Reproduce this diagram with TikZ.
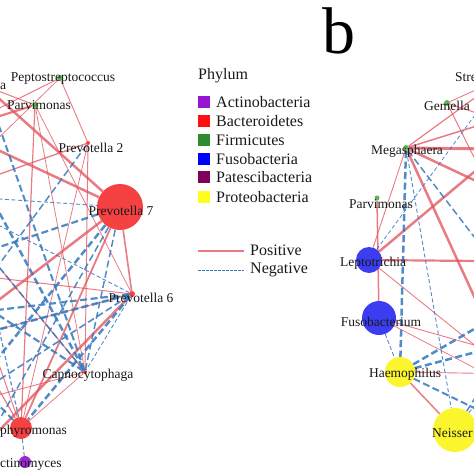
\documentclass[tikz,border=0pt]{standalone}
\usepackage{fontspec}
\setmainfont{Liberation Serif}
\usetikzlibrary{backgrounds}
\definecolor{posc}{RGB}{226,80,90}
\definecolor{negc}{RGB}{50,120,190}
\definecolor{actc}{RGB}{155,40,215}
\definecolor{bacc}{RGB}{245,65,65}
\definecolor{firc}{RGB}{95,180,85}
\definecolor{fusc}{RGB}{60,60,240}
\definecolor{proc}{RGB}{250,245,45}
\definecolor{lactc}{RGB}{150,20,210}
\definecolor{lbacc}{RGB}{255,15,15}
\definecolor{lfirc}{RGB}{45,140,45}
\definecolor{lfusc}{RGB}{0,0,255}
\definecolor{lpatc}{RGB}{130,0,90}
\definecolor{lproc}{RGB}{255,255,30}
\tikzset{
 edgep/.style={draw=posc, draw opacity=0.75, line width=#1},
 edgen/.style={draw=negc, draw opacity=0.85, line width=#1, dash pattern=on 4pt off 2.5pt},
 edgenk/.style={draw=negc, draw opacity=0.85, line width=#1, dash pattern=on 7pt off 3.5pt},
 vtx/.style={circle, inner sep=0pt, minimum size=#1},
 lab/.style={font=\fontsize{13.5}{14}\selectfont, inner sep=0pt, text=black!90},
 legtext/.style={font=\fontsize{16}{16}\selectfont, inner sep=0pt, anchor=west, text=black!90},
 sqbox/.style={minimum size=12pt, inner sep=0pt},
}
\begin{document}
\begin{tikzpicture}[x=1pt,y=-1pt]
\useasboundingbox (0,0) rectangle (474,474);
\clip (0,0) rectangle (474,474);

% ---------- left panel nodes ----------
\node[vtx=6pt, fill=firc] (pepto) at (60,78) {};
\node[vtx=6pt, fill=firc] (parvL) at (35,105) {};
\node[vtx=4pt, fill=bacc] (prevtwo) at (88,143) {};
\node[vtx=46pt, fill=bacc] (prevseven) at (120,207) {};
\node[vtx=6pt, fill=bacc] (prevsix) at (132,294) {};
\node[vtx=4pt, fill=bacc] (capno) at (85,372) {};
\node[vtx=22pt, fill=bacc] (porph) at (21,428) {};
\node[vtx=12pt, fill=actc] (actino) at (25,462) {};
\coordinate (oA) at (-15,86);
\coordinate (oB) at (-45,130);
\coordinate (oC) at (-60,195);
\coordinate (oD) at (-70,270);
\coordinate (oH) at (-70,318);
\coordinate (oE) at (-60,345);
\coordinate (oF) at (-40,405);
\coordinate (oG) at (-15,445);

% ---------- right panel nodes ----------
\node[vtx=6pt, fill=firc] (gem) at (447,103) {};
\node[vtx=6pt, fill=firc] (mega) at (406,148) {};
\node[vtx=5pt, fill=firc] (parvR) at (377,198) {};
\node[vtx=26pt, fill=fusc] (lepto) at (369,260) {};
\node[vtx=34pt, fill=fusc] (fuso) at (379,318) {};
\node[vtx=30pt, fill=proc] (haem) at (400,372) {};
\node[vtx=44pt, fill=proc] (neis) at (455,430) {};
\coordinate (strep) at (502,78);
\coordinate (rA) at (560,100);
\coordinate (rB) at (585,150);
\coordinate (rC) at (580,230);
\coordinate (rD) at (590,262);
\coordinate (rX) at (560,330);
\coordinate (rE) at (580,375);
\coordinate (rF) at (555,410);
\coordinate (rG) at (540,440);

\begin{scope}[on background layer]
% left positive
\foreach \a/\b/\w in {pepto/prevtwo/0.9, pepto/oB/1, parvL/porph/1.2, oB/parvL/2.2,
  oA/parvL/1, oA/prevseven/2.5, oB/prevseven/2.5, prevtwo/oC/1.3, prevtwo/capno/1,
  prevtwo/porph/0.8, prevseven/prevsix/1.6, prevseven/oE/2.5, prevseven/porph/1.8,
  parvL/prevsix/0.8, oD/prevsix/1, oE/prevsix/0.9, oC/capno/1.2, prevsix/oG/2.5,
  capno/porph/0.8, capno/oF/0.9, porph/oD/1.2, porph/oC/1.0, parvL/capno/0.8, pepto/oC/0.8}
  \draw[edgep=\w pt] (\a) -- (\b);
% left negative thin
\foreach \a/\b/\w in {oC/prevseven/0.9, prevsix/oC/0.9, prevsix/capno/0.9, porph/actino/0.9, porph/oB/1.2}
  \draw[edgen=\w pt] (\a) -- (\b);
% left negative thick
\foreach \a/\b/\w in {oB/capno/2.5, prevseven/oD/2.2, prevseven/oF/2.5, prevseven/oG/1.5,
  prevseven/capno/1.5, prevsix/oE/2.5, prevsix/oF/1.6, prevsix/porph/2.5, capno/oD/2.2,
  capno/oC/1.5, porph/oE/2, prevtwo/oE/1.5, capno/oA/2, prevsix/oH/2.2}
  \draw[edgenk=\w pt] (\a) -- (\b);
% right positive
\foreach \a/\b/\w in {mega/strep/1.2, mega/rA/1.5, mega/rB/3, mega/rC/2.5, mega/rG/2.5,
  mega/lepto/0.9, gem/rX/1, gem/strep/0.9, gem/rB/1, parvR/fuso/1.5, lepto/rA/2.5,
  lepto/rD/2.2, lepto/rF/0.9, fuso/rE/0.9, fuso/rF/0.8, haem/neis/1.5, haem/rE/0.9}
  \draw[edgep=\w pt] (\a) -- (\b);
% right negative thin
\foreach \a/\b/\w in {mega/neis/0.9, lepto/strep/0.8, neis/rD/0.9, fuso/haem/0.9}
  \draw[edgen=\w pt] (\a) -- (\b);
% right negative thick
\foreach \a/\b/\w in {mega/haem/2.5, mega/rE/1.5, haem/rD/2.5, haem/rX/2.5, haem/rG/2, neis/rC/1.5}
  \draw[edgenk=\w pt] (\a) -- (\b);
\end{scope}

% ---------- labels ----------
\node[lab, anchor=west] (laba) at (0,86) {a};
\node[lab] (lpepto) at (63,79) {Peptostreptococcus};
\node[lab] (lparvL) at (39,105) {Parvimonas};
\node[lab] (lprevtwo) at (91,148) {Prevotella 2};
\node[lab] (lprevseven) at (121,211) {Prevotella 7};
\node[lab] (lprevsix) at (141,298) {Prevotella 6};
\node[lab] (lcapno) at (88,375) {Capnocytophaga};
\node[lab, anchor=west] (lporph) at (0,431) {phyromonas};
\node[lab, anchor=west] (lactino) at (0,464) {ctinomyces};

\node[lab, anchor=west] (lstrep) at (455,77) {Stre};
\node[lab] (lgem) at (447,106) {Gemella};
\node[lab] (lmega) at (407,151) {Megasphaera};
\node[lab] (lparvR) at (381,204) {Parvimonas};
\node[lab] (llepto) at (373,263) {Leptotrichia};
\node[lab] (lfuso) at (381,322) {Fusobacterium};
\node[lab] (lhaem) at (405,374) {Haemophilus};
\node[lab, anchor=west] (lneis) at (432,433) {Neisser};

\node[font=\fontsize{66}{66}\selectfont, inner sep=0pt, anchor=base] (panelb) at (339,53) {b};

% ---------- legend ----------
\node[legtext] (phylum) at (198,76) {Phylum};
\foreach \c/\t/\yy [count=\i] in {lactc/Actinobacteria/102, lbacc/Bacteroidetes/121,
  lfirc/Firmicutes/140, lfusc/Fusobacteria/159, lpatc/Patescibacteria/177, lproc/Proteobacteria/197}{
  \node[sqbox, fill=\c] (sq\i) at (203.5,\yy) {};
  \node[legtext] (lt\i) at (216,\yy) {\t};
}
\coordinate (pa) at (198,251);
\coordinate (pb) at (244,251);
\draw[edgep=1.2pt] (pa) -- (pb);
\node[legtext] (lpos) at (250,250) {Positive};
\coordinate (na) at (198,270);
\coordinate (nb) at (244,270);
\draw[draw=negc, line width=0.9pt, dash pattern=on 2.5pt off 1.5pt] (na) -- (nb);
\node[legtext] (lneg) at (250,270) {Negative};
\end{tikzpicture}
\end{document}
